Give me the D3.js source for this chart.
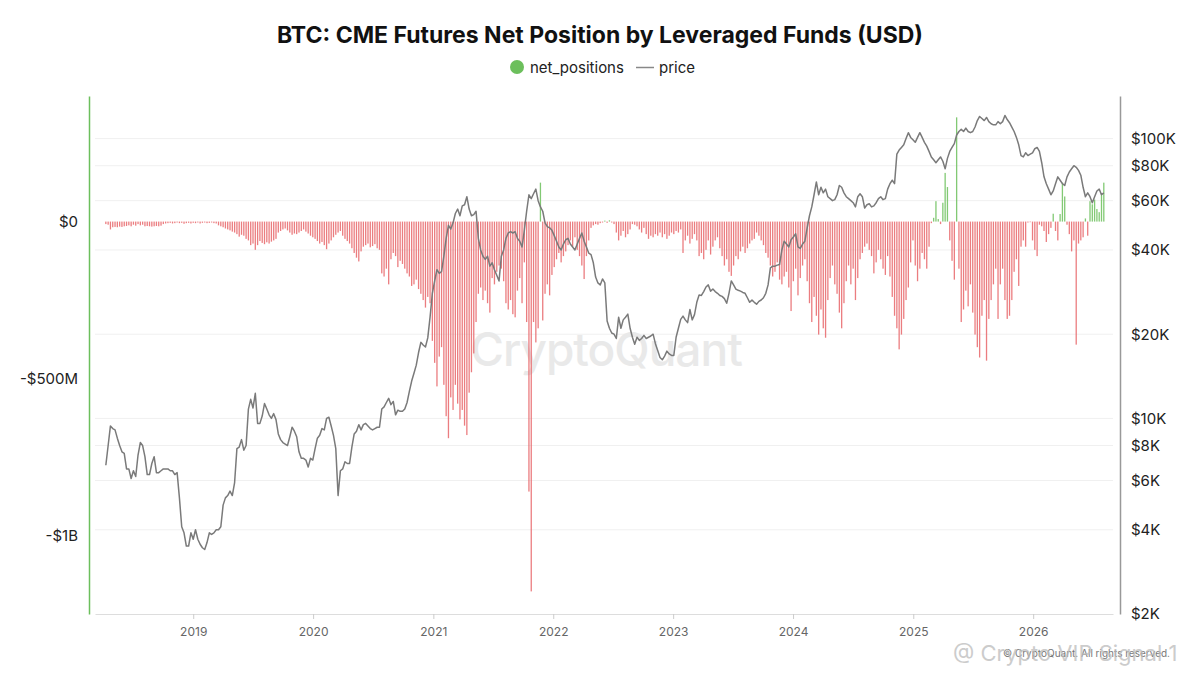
<!DOCTYPE html>
<html>
<head>
<meta charset="utf-8">
<script src="https://cdn.jsdelivr.net/npm/d3@7"></script>
<style>
  body { margin: 0; background: #fff; }
  svg { display: block; font-family: Inter, "Liberation Sans", Arial, sans-serif; }
</style>
</head>
<body>
<div id="chart"></div>
<script>
// weekly CFTC prints, first week and the values
const firstWeek = new Date(2018, 3, 10);

// net position of leveraged funds, USD millions, one value per week
const net2018 = [-8,-10,-25,-18,-17,-18,-16,-17,-15,-14,-12,-15,-10,-13,-8,-12,-10,-15,-14,-15,
  -16,-15,-14,-15,-13,-8,-6,-5,-4,-6,-5,-3,-5,-4,-7,-5,-4,-6];
const net2019 = [-4,-5,-3,-6,-4,-3,-5,-4,-3,-5,-6,-12,-15,-18,-22,-25,-28,-32,-35,-40,
  -48,-42,-45,-55,-60,-75,-70,-90,-75,-62,-68,-72,-66,-70,-64,-60,-55,-35,-30,-25,
  -22,-28,-35,-42,-38,-40,-35,-30,-25,-32,-38,-45];
const net2020 = [-50,-55,-62,-70,-65,-75,-88,-70,-60,-50,-42,-35,-30,-45,-55,-62,-70,-85,-100,-115,
  -127,-95,-80,-75,-70,-82,-78,-72,-85,-90,-165,-175,-150,-200,-120,-100,-110,-145,-125,-135,
  -150,-165,-175,-205,-200,-185,-215,-230,-250,-274,-240,-260];
const net2021 = [-380,-450,-525,-430,-400,-520,-620,-690,-560,-600,-520,-580,-630,-600,-650,-680,-545,-480,-420,-320,
  -230,-210,-250,-220,-260,-290,-180,-200,-160,-140,-150,-190,-260,-280,-250,-295,-305,-220,-180,-260,
  -130,-320,-860,-1178,-320,-385,-340,124,-315,-230,-200,-235];
const net2022 = [-170,-145,-120,-100,-130,-110,-95,-75,-60,-80,-50,-90,-110,-140,-183,-110,-60,-20,-12,-8,
  -10,-5,-3,3,-4,4,-3,-8,-35,-60,-45,-30,-50,-40,-25,-8,-10,-15,-25,-35,
  -20,-40,-55,-45,-50,-40,-45,-35,-50,-40,-55,-45];
const net2023 = [-35,-40,-30,-35,-25,-100,-60,-45,-70,-55,-40,-60,-110,-100,-120,-90,-60,-105,-80,-60,
  -50,-85,-110,-140,-120,-160,-173,-140,-110,-120,-95,-80,-100,-85,-70,-60,-55,-35,-45,-60,
  -75,-100,-115,-140,-175,-160,-130,-185,-200,-175,-160,-210];
const net2024 = [-285,-190,-150,-235,-180,-140,-120,-190,-260,-320,-240,-300,-360,-280,-340,-370,-250,-180,-140,-200,
  -230,-290,-340,-260,-190,-140,-200,-150,-250,-180,-120,-100,-80,-70,-90,-110,-165,-130,-90,-120,
  -150,-170,-110,-175,-240,-300,-340,-407,-360,-310,-250,-210];
const net2025 = [-130,-60,-140,-190,-150,-100,-120,-150,-80,-5,12,65,8,-8,60,155,110,-60,-125,-185,
  332,-150,-320,-280,-220,-270,-200,-290,-360,-400,-433,-300,-250,-443,-310,-250,-200,-150,-310,-200,
  -150,-250,-310,-300,-250,-160,-120,-205,-80,-60,-80,-3];
const net2026 = [-2,-60,-90,-110,-10,-15,-30,-65,-40,-20,25,-30,-60,24,124,80,-10,-40,-95,-60,
  -392,-70,-60,-50,10,-45,65,55,70,40,30,90,124];

// BTC price, USD thousands, same weeks
const price2018 = [6.8,8.0,9.4,9.2,9.1,8.5,8.0,7.6,7.5,6.6,6.6,6.1,6.5,6.2,7.4,8.2,8.0,7.3,6.3,6.3,
  6.9,7.3,6.4,6.4,6.5,6.6,6.6,6.6,6.5,6.5,6.3,6.4,5.2,4.1,3.9,3.5,3.5,3.9];
const price2019 = [3.7,4.0,3.7,3.55,3.45,3.4,3.6,3.9,3.85,3.9,4.0,4.0,4.1,4.9,5.2,5.3,5.5,5.3,5.9,7.8,
  7.9,8.4,7.7,8.0,10.8,11.7,10.9,12.3,9.6,9.6,10.2,11.3,10.8,10.3,10.0,10.4,9.9,8.8,8.4,8.2,
  8.1,8.0,8.6,9.3,9.0,8.6,7.6,7.2,7.2,7.1,6.7,7.2];
const price2020 = [7.1,7.8,8.5,8.7,9.2,9.1,10.0,10.1,9.4,8.7,7.8,5.3,6.5,6.6,7.0,6.9,6.9,7.9,8.8,9.0,
  9.5,9.1,9.5,9.6,9.4,9.2,9.1,9.2,9.3,9.3,10.8,11.0,11.4,11.8,11.2,11.5,10.3,10.7,10.6,10.6,
  10.8,11.4,12.5,13.6,14.5,15.5,17.2,18.7,18.3,18.0,19.4,23.0];
const price2021 = [28,31,34,33,33.5,38,44,49,47.5,50,54,56,53,57.5,58,62,56,53,53.5,55,
  44,40,38,37,38,35,36,34,32.5,31,38,40,44,46,46.5,46,46.5,44,43,41,
  47,55,63,61,63.5,66,60,57,55,50,48.5,48];
const price2022 = [47,45,43,41,40,42,43.5,44,42,41,40,42,44,46,43,41,39,38.5,36,32,
  30.5,30,31.5,30.5,22.3,21,20.2,20,19.3,23,21,22.5,23,23.6,21,19.5,18.4,19.5,19,19.3,
  19.8,19.3,19.5,19.7,20,18.5,17.5,16.5,16.2,16.7,17.4,17];
const price2023 = [16.8,16.8,19.5,21,22.6,23.2,22.5,22,24.5,22.5,23.5,26,27.6,27.5,28.4,29.5,30,28.5,29,28.4,
  28,27.5,27.3,26.8,25.8,28,31,30,29,28.7,28.5,28.2,28,27,26,26.5,26,25.6,26.2,26.5,
  27,28,30,34.5,35,35,35.3,35.5,40,43,42,41];
const price2024 = [43.5,44.5,45.7,41,40.5,42,43,48,53,57,63,70,63,67,64,66,62,61,60,60.5,
  63,68,67,64,62,61,60,59,57,62,63.5,62,56.5,58,58.5,57,57.5,59,61,62,
  60.5,61,66,69,71,69,88,91,93,95,100,105];
const price2025 = [101,99,97,101,105,101,97,94,90,86,84,82,84,86,83,78,85,90,93,96,
  103,106,108,106,109,106,105,106,110,116,120,118,116,119,115,113,112,112,115,113,
  115,121,117,114,110,106,101,95,87,86,89,87];
const price2026 = [88,89,92,93,90,82,73,69,66,63,65,69,73,71,69,68,73,76,78,80,
  79,77,74,67,62,64,62,59,62,65,66,63,64];

const leftTicks = [0, -500e6, -1e9];
const rightTicks = [2000, 4000, 6000, 8000, 10000, 20000, 40000, 60000, 80000, 100000];

const netAll = [].concat(net2018, net2019, net2020, net2021, net2022, net2023, net2024, net2025, net2026);
const priceAll = [].concat(price2018, price2019, price2020, price2021, price2022, price2023, price2024, price2025, price2026);
const data = netAll.map((v, i) => ({
  date: d3.timeDay.offset(firstWeek, 7 * i),
  net: v * 1e6,
  price: priceAll[i] * 1000
}));

const width = 1200, height = 675;
const plot = { left: 95, right: 1113, top: 96, bottom: 614 };
const green = '#6cbf5c', red = '#e8666a';

const svg = d3.select('#chart').append('svg')
  .attr('width', width).attr('height', height);

const x = d3.scaleTime()
  .domain([new Date(2018, 2, 8), new Date(2026, 8, 1)])
  .range([plot.left, plot.right]);

const yNet = d3.scaleLinear()
  .domain([-1.25e9, 0.4e9])
  .range([plot.bottom, plot.top]);

const yPrice = d3.scaleLog()
  .domain([2000, 142000])
  .range([plot.bottom, plot.top]);

// title + legend
svg.append('text')
  .attr('x', 600).attr('y', 43)
  .attr('text-anchor', 'middle')
  .attr('font-size', 23).attr('font-weight', 700).attr('fill', '#111')
  .text('BTC: CME Futures Net Position by Leveraged Funds (USD)');

const legend = svg.append('g');
legend.append('circle').attr('cx', 517).attr('cy', 67).attr('r', 7).attr('fill', green);
legend.append('text').attr('x', 530).attr('y', 72.5).attr('font-size', 15).attr('fill', '#222').text('net_positions');
legend.append('line').attr('x1', 636).attr('x2', 654).attr('y1', 67.5).attr('y2', 67.5)
  .attr('stroke', '#888').attr('stroke-width', 1.5);
legend.append('text').attr('x', 659).attr('y', 72.5).attr('font-size', 15).attr('fill', '#222').text('price');

// grid from the price axis
svg.append('g')
  .selectAll('line')
  .data(rightTicks.slice(1))
  .join('line')
    .attr('x1', plot.left).attr('x2', plot.right)
    .attr('y1', d => yPrice(d)).attr('y2', d => yPrice(d))
    .attr('stroke', '#f0f0f0').attr('stroke-width', 1);

// watermark
svg.append('text')
  .attr('x', 606).attr('y', 366)
  .attr('text-anchor', 'middle')
  .attr('font-size', 46).attr('font-weight', 500).attr('fill', '#e9e9e9')
  .attr('letter-spacing', -1)
  .text('CryptoQuant');

// bars
const barW = 1.3;
svg.append('g')
  .selectAll('rect')
  .data(data)
  .join('rect')
    .attr('x', d => x(d.date) - barW / 2)
    .attr('width', barW)
    .attr('y', d => Math.min(yNet(d.net), yNet(0)))
    .attr('height', d => Math.abs(yNet(d.net) - yNet(0)))
    .attr('fill', d => d.net >= 0 ? green : red)
    .attr('opacity', 0.85);

// price line
const line = d3.line()
  .x(d => x(d.date))
  .y(d => yPrice(d.price));

svg.append('path')
  .datum(data)
  .attr('fill', 'none')
  .attr('stroke', '#7a7a7a')
  .attr('stroke-width', 1.5)
  .attr('stroke-linejoin', 'round')
  .attr('d', line);

// axes
const fmtNet = d => d === 0 ? '$0' : (d <= -1e9 ? '-$' + (-d / 1e9) + 'B' : '-$' + (-d / 1e6) + 'M');
const fmtPrice = d => '$' + (d / 1000) + 'K';

const leftAxis = svg.append('g')
  .attr('transform', 'translate(89,0)')
  .call(d3.axisLeft(yNet).tickValues(leftTicks).tickFormat(fmtNet).tickSize(0).tickPadding(11));
leftAxis.select('.domain').attr('stroke', green).attr('stroke-width', 1.5);
leftAxis.selectAll('text').attr('font-size', 15).attr('fill', '#222').attr('font-family', 'Inter, sans-serif');

const rightAxis = svg.append('g')
  .attr('transform', 'translate(1120,0)')
  .call(d3.axisRight(yPrice).tickValues(rightTicks).tickFormat(fmtPrice).tickSize(0).tickPadding(11));
rightAxis.select('.domain').attr('stroke', '#999').attr('stroke-width', 1.5);
rightAxis.selectAll('text').attr('font-size', 15).attr('fill', '#222').attr('font-family', 'Inter, sans-serif');

const bottomAxis = svg.append('g')
  .attr('transform', `translate(0,${plot.bottom})`)
  .call(d3.axisBottom(x).ticks(d3.timeYear.every(1)).tickFormat(d3.timeFormat('%Y')).tickSize(5).tickSizeOuter(0).tickPadding(8));
bottomAxis.select('.domain').attr('stroke', '#ddd');
bottomAxis.selectAll('.tick line').attr('stroke', '#ccc');
bottomAxis.selectAll('text').attr('font-size', 12).attr('fill', '#666').attr('font-family', 'Inter, sans-serif');

// credits
svg.append('text')
  .attr('x', 1170).attr('y', 657)
  .attr('text-anchor', 'end')
  .attr('font-size', 10).attr('fill', '#777')
  .text('© CryptoQuant. All rights reserved.');

svg.append('text')
  .attr('x', 953).attr('y', 661)
  .attr('font-size', 22).attr('fill', '#bbb').attr('opacity', 0.75)
  .text('@ Crypto VIP Signal 1');
</script>
</body>
</html>
